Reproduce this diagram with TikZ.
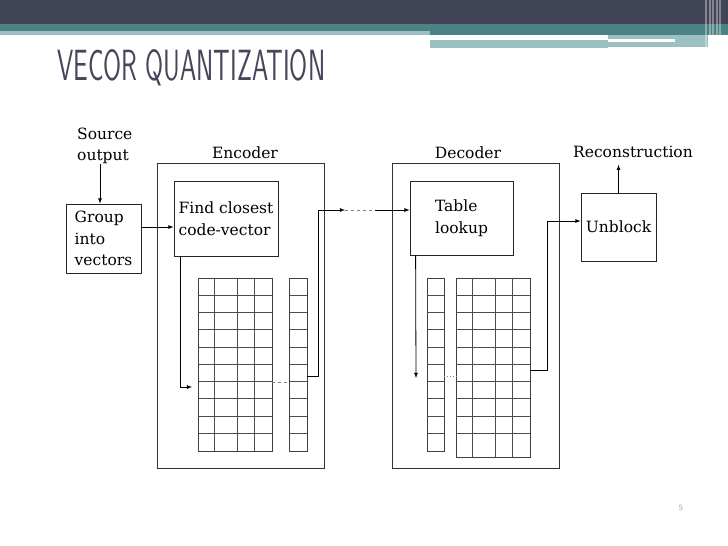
\documentclass[tikz,border=0pt]{standalone}
\usepackage{graphicx}
\usepackage{fontspec}
\setmainfont{DejaVu Serif}
\usepackage{tikz}
\usetikzlibrary{positioning}
\definecolor{slate}{HTML}{414356}
\definecolor{bandteal}{HTML}{4A8285}
\definecolor{bandlight}{HTML}{9CBFC2}
\definecolor{titlegray}{HTML}{45465A}
\definecolor{pagegray}{HTML}{8FA9B3}

\begin{document}
\begin{tikzpicture}[x=1pt,y=-1pt,>=latex,
    font=\fontsize{15.5}{21.5}\selectfont,
    block/.style={draw=black!85,line width=0.8pt,align=left,inner sep=0pt},
    frame/.style={draw=black!80,line width=0.8pt,inner sep=0pt},
    codebook/.style={draw=black!75,line width=0.7pt,inner sep=0pt},
    cell/.style={draw=black!70,line width=0.7pt},
    link/.style={->,line width=0.8pt},
    gap/.style={gray,dashed,line width=0.8pt}]

      \useasboundingbox (0,0) rectangle (728,546);

      % header bands
      \fill[slate] (0,0) rectangle (728,24);
      \fill[bandteal] (0,24) rectangle (728,31);
      \fill[bandteal] (430,31) rectangle (728,35);
      \fill[bandlight] (0,31) rectangle (430,35);
      \fill[bandlight] (430,40) rectangle (608,48);
      \fill[bandlight] (608,35) rectangle (708,47);
      \fill[white] (608,39) rectangle (675,42);
      \foreach \x in {706,710,713,717,720}
        \draw[white,opacity=0.35,line width=1.2pt] (\x,0) -- (\x,47);

      \node[anchor=base west,inner sep=0pt,text=titlegray] (title) at (57,80)
        {\resizebox{268pt}{31pt}{\sffamily VECOR QUANTIZATION}};

      % encoder / decoder frames
      \node[frame,minimum width=167,minimum height=305] (enc) at (240.5,315.5) {};
      \node[frame,minimum width=167,minimum height=305] (dec) at (475.5,315.5) {};
      \node[above=0pt of enc,xshift=4.5pt] (enc_lbl) {Encoder};
      \node[above=0pt of dec,xshift=-7.5pt] (dec_lbl) {Decoder};

      \node[anchor=north west,align=left,inner sep=0pt] (src) at (77,127.5) {Source\\output};
      \node[block,minimum width=75,minimum height=69] (grp) at (103.5,238.5) {Group\\into\\vectors};
      \node[block,minimum width=104,minimum height=75] (find) at (226,218.5) {Find closest\\code-vector};
      \node[block,minimum width=103,minimum height=74] (look) at (461.5,218) {Table\\lookup};
      \node[block,minimum width=75,minimum height=68] (unblk) at (618.5,227) {Unblock};
      \node[anchor=base] (rec) at (633,157) {Reconstruction};

      % codebooks and index columns
      \node[codebook,minimum width=74,minimum height=173] (enc_cb) at (235,364.5) {};
      \node[codebook,minimum width=18,minimum height=173] (enc_ix) at (298,364.5) {};
      \node[codebook,minimum width=17,minimum height=173] (dec_ix) at (435.5,364.5) {};
      \node[codebook,minimum width=74,minimum height=179] (dec_cb) at (493,367.5) {};
      \foreach \i in {1,...,9} {
        \draw[cell] (enc_cb.north west) ++(0,17.3*\i) -- ++(74,0);
        \draw[cell] (enc_ix.north west) ++(0,17.3*\i) -- ++(18,0);
        \draw[cell] (dec_ix.north west) ++(0,17.3*\i) -- ++(17,0);
        \draw[cell] (dec_cb.north west) ++(0,17.3*\i) -- ++(74,0);
      }
      \foreach \c in {17,40,57} {
        \draw[cell] (enc_cb.north west) ++(\c,0) -- ++(0,173);
        \draw[cell] (dec_cb.north west) ++(\c,0) -- ++(0,179);
      }

      % connectors
      \coordinate (cb_in) at (192,387);
      \coordinate (chan_a) at (345,210);
      \coordinate (chan_b) at (375,210);
      \coordinate (ix_in) at (416,378);

      \draw[link] ([xshift=-3.5pt]grp.north |- src.south) -- ([xshift=-3.5pt]grp.north);
      \draw[link] ([yshift=11.5pt]grp.east) -- ([yshift=11.5pt]grp.east -| find.west);
      \draw[link] ([xshift=7pt]find.south west) |- (cb_in);
      \draw[gap] ([yshift=-17.5pt]enc_cb.east) -- ([yshift=-17.5pt]enc_ix.west);
      \draw[link] ([yshift=-11.5pt]enc_ix.east) -- ++(11,0) |- (chan_a);
      \draw[gap] (chan_a) -- (chan_b);
      \draw[link] (chan_b) -- (chan_b -| look.west);
      \draw[link] ([xshift=6pt]look.south west) -- (ix_in);
      \draw[gap,dotted] ([yshift=-11.5pt]dec_ix.east) -- ([yshift=-11.5pt]dec_ix.east -| dec_cb.west);
      \draw[link] ([yshift=-2.5pt]dec_cb.east) -- ++(17,0) |- ([yshift=6pt]unblk.west);
      \draw[link] (unblk.north) -- ([yshift=-4pt]unblk.north |- rec.south);

      \node[text=pagegray,font=\fontsize{8}{9}\selectfont\sffamily] (pg) at (681,508) {5};
    \end{tikzpicture}
\end{document}
